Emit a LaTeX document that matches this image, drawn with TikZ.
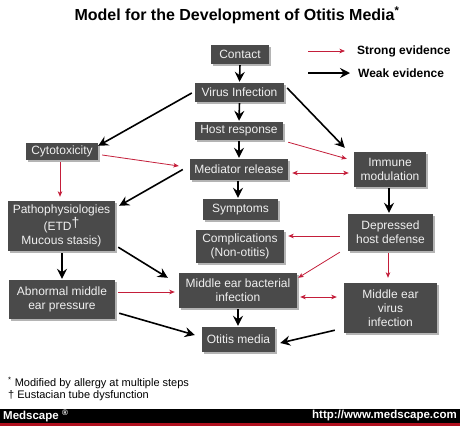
\documentclass[tikz,border=0pt]{standalone}
\usepackage{fontspec}
\setmainfont{Liberation Sans}
\usetikzlibrary{arrows.meta,shadows}
\definecolor{boxgray}{HTML}{4A4A4A}
\definecolor{shad}{HTML}{B4B4B4}
\definecolor{strong}{HTML}{C41E3A}
\definecolor{foot}{HTML}{B0101E}
\tikzset{
  box/.style={fill=boxgray, text=white!94!black, inner sep=0pt, align=center,
    font=\fontsize{12}{14}\selectfont,
    drop shadow={shadow xshift=1.5pt, shadow yshift=-1.5pt, fill=shad, opacity=1}},
  weak/.style={line width=1.6pt, -{Stealth[length=10pt,width=10pt,inset=3.5pt]}},
  strongarr/.style={strong, line width=0.8pt, -{Stealth[length=5.5pt,width=4.5pt,inset=1.5pt]}},
  strongboth/.style={strong, line width=0.8pt, {Stealth[length=5.5pt,width=4.5pt,inset=1.5pt]}-{Stealth[length=5.5pt,width=4.5pt,inset=1.5pt]}},
  lbl/.style={font=\bfseries\fontsize{12}{14}\selectfont, anchor=west, inner sep=0pt},
  note/.style={font=\fontsize{11}{13}\selectfont, anchor=west, inner sep=0pt},
  footlbl/.style={font=\bfseries\fontsize{11.5}{13}\selectfont, text=white, inner sep=0pt}
}
\begin{document}
\begin{tikzpicture}[x=1pt,y=-1pt]
\useasboundingbox (0,0) rectangle (460,426);
\fill[white] (0,0) rectangle (460,426);
% title
\node[font=\bfseries\fontsize{16}{19}\selectfont, inner sep=0pt] (title) at (237,15) {Model for the Development of Otitis Media\textsuperscript{*}};
% boxes
\node[box, minimum width=58pt, minimum height=19pt] (contact) at (240,54.5) {Contact};
\node[box, minimum width=89pt, minimum height=19pt] (virus) at (239.5,92.5) {Virus Infection};
\node[box, minimum width=88pt, minimum height=18pt] (host) at (239,131) {Host response};
\node[box, minimum width=72pt, minimum height=17pt] (cyto) at (62,151.5) {Cytotoxicity};
\node[box, minimum width=98pt, minimum height=21pt] (mediator) at (239,169.5) {Mediator release};
\node[box, minimum width=72pt, minimum height=35pt] (immune) at (390,169.5) {Immune\\modulation};
\node[box, minimum width=75pt, minimum height=21pt] (symptoms) at (240.5,209.5) {Symptoms};
\node[box, minimum width=107pt, minimum height=50pt] (patho) at (61.5,226) {Pathophysiologies\\(ETD\raisebox{3pt}{\fontsize{14}{14}\selectfont †}\\Mucous stasis)};
\node[box, minimum width=85pt, minimum height=37pt] (depressed) at (390.5,232.5) {Depressed\\host defense};
\node[box, minimum width=88pt, minimum height=33pt] (compl) at (240,246.5) {Complications\\(Non-otitis)};
\node[box, minimum width=118pt, minimum height=35pt] (bact) at (238,290.5) {Middle ear bacterial\\infection};
\node[box, minimum width=106pt, minimum height=39pt] (abnormal) at (62,299.5) {Abnormal middle\\ear pressure};
\node[box, minimum width=93pt, minimum height=50pt] (mevirus) at (390.5,308) {Middle ear\\virus\\infection};
\node[box, minimum width=73pt, minimum height=25pt] (otitis) at (238.5,339.5) {Otitis media};
% legend
\coordinate (ls1) at (308,51); \coordinate (le1) at (345,51);
\coordinate (ls2) at (308,73); \coordinate (le2) at (350,73);
\draw[strongarr] (ls1) -- (le1);
\draw[weak] (ls2) -- (le2);
\node[lbl] (lstrong) at (357,51) {Strong evidence};
\node[lbl] (lweak) at (358,73) {Weak evidence};
% weak (black) arrows
\draw[weak, shorten <=1pt, shorten >=1pt] (contact.south) -- (virus.north);
\draw[weak, shorten <=1pt, shorten >=1pt] (virus.south) -- (host.north);
\draw[weak] ([xshift=-3pt,yshift=-0.5pt]virus.west) -- ([yshift=-3pt]cyto.north east);
\draw[weak] ([xshift=3pt,yshift=4.5pt]virus.east) -- ([xshift=-9pt,yshift=4pt]immune.north west);
\draw[weak, shorten <=1pt, shorten >=1pt] (host.south) -- (mediator.north);
\draw[weak] ([xshift=-7pt]mediator.west) -- ([xshift=4pt,yshift=-5pt]patho.north east);
\draw[weak, shorten <=1pt, shorten >=1pt] ([xshift=-1pt]mediator.south) -- ([xshift=-2.5pt]symptoms.north);
\draw[weak, shorten <=1pt, shorten >=1pt] ([xshift=-1pt]immune.south) -- ([xshift=-1.5pt]depressed.north);
\draw[weak, shorten <=2pt, shorten >=1pt] ([xshift=0.5pt]patho.south) -- (abnormal.north);
\draw[weak] ([xshift=3pt,yshift=4pt]patho.south east) -- ([xshift=-11pt,yshift=-5pt]bact.north west);
\draw[weak, shorten <=1pt, shorten >=1pt] (bact.south) -- ([xshift=-0.5pt]otitis.north);
\draw[weak] ([xshift=4pt,yshift=6pt]abnormal.south east) -- ([xshift=-7pt,yshift=4.5pt]otitis.west);
\draw[weak] ([xshift=-9pt,yshift=3pt]mevirus.south west) -- ([xshift=5pt,yshift=-3.5pt]otitis.east);
% strong (red) arrows
\draw[strongarr] ([xshift=5pt,yshift=-2pt]host.south east) -- ([xshift=-7pt,yshift=-7pt]immune.north west);
\draw[strongarr] ([xshift=4pt,yshift=-3.5pt]cyto.east) -- ([xshift=-11pt,yshift=3.5pt]mediator.west);
\draw[strongboth] ([xshift=4pt,yshift=-3.5pt]mediator.east) -- ([xshift=-5pt,yshift=-3.5pt]immune.west);
\draw[strongarr] ([xshift=-2pt,yshift=-2pt]cyto.south) -- ([xshift=-1.5pt,yshift=4pt]patho.north);
\draw[strongarr] ([xshift=-8pt,yshift=-3.5pt]depressed.west) -- ([xshift=4pt,yshift=10.5pt]compl.east);
\draw[strongarr] ([xshift=-8pt,yshift=-1pt]depressed.south west) -- ([xshift=1pt,yshift=-5pt]bact.north east);
\draw[strongarr] ([xshift=-2.5pt,yshift=-2pt]depressed.south) -- ([xshift=-2.5pt,yshift=5pt]mevirus.north);
\draw[strongarr] ([xshift=3pt,yshift=7.5pt]abnormal.east) -- ([xshift=-4pt,yshift=-1.5pt]bact.west);
\draw[strongboth] ([xshift=3pt,yshift=-6.5pt]bact.east) -- ([xshift=-7pt,yshift=11pt]mevirus.west);
% footnotes
\node[note] (n1) at (8,383) {\textsuperscript{*} Modified by allergy at multiple steps};
\node[note] (n2) at (8,396) {† Eustacian tube dysfunction};
% footer
\fill[black] (0,409) rectangle (460,423);
\fill[foot] (0,423) rectangle (460,426);
\node[footlbl, anchor=west] (ms) at (3,416) {Medscape \textsuperscript{®}};
\node[footlbl, anchor=east] (url) at (457,416) {http://www.medscape.com};
\end{tikzpicture}
\end{document}
